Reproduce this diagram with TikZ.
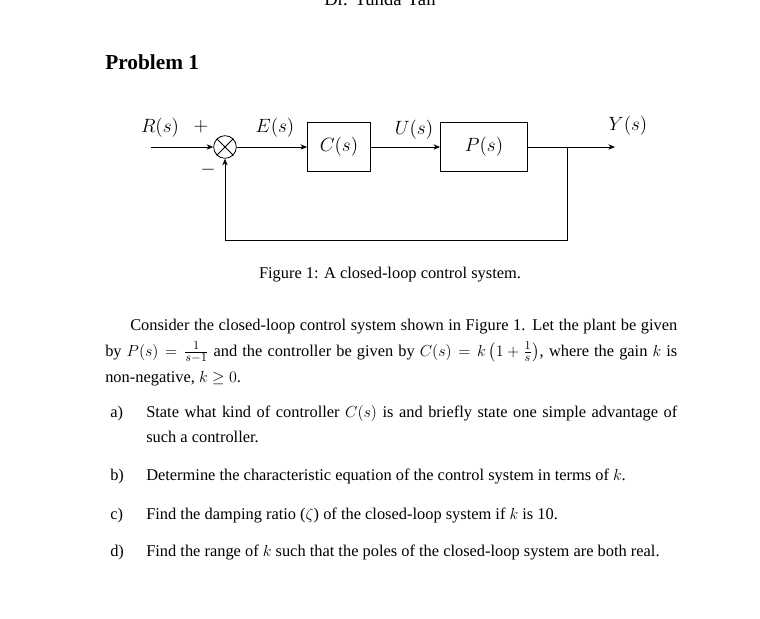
\documentclass[tikz,border=0pt]{standalone}
\usepackage{fontspec}
\setmainfont{Liberation Serif}
\usepackage{amsmath}
\usetikzlibrary{arrows.meta}
\newcommand\jl[3]{\node[anchor=base west,inner sep=0] at (#1) {\makebox[#2][s]{#3}};}
\begin{document}
\begin{tikzpicture}[x=0.75pt,y=-0.75pt,font=\fontsize{12.3}{14}\selectfont,
  blk/.style={draw,semithick,minimum height=49*0.75pt,inner sep=0},
  sig/.style={semithick,-{Stealth[length=5pt,width=4pt]}},
  wire/.style={semithick},
  lab/.style={font=\fontsize{14.5}{16}\selectfont}]
\useasboundingbox (0,0) rectangle (760,618);
\node[anchor=base] (hdr) at (380,5) {\fontsize{14}{16}\selectfont Dr. Yunda Yan};
\node[anchor=base west,inner sep=0] (prob) at (105,69) {\fontsize{16}{18}\selectfont\bfseries Problem 1};
% diagram
\coordinate (in) at (151,147);
\node[draw,semithick,circle,minimum size=17pt,inner sep=0] (sum) at (225,147) {};
\draw[semithick] (sum.north west) -- (sum.south east) (sum.north east) -- (sum.south west);
\node[blk,lab,minimum width=63*0.75pt] (C) at (339,147) {$C(s)$};
\node[blk,lab,minimum width=87*0.75pt] (P) at (484,147) {$P(s)$};
\coordinate (br) at (567,147);
\coordinate (out) at (615,147);
\coordinate (bot) at (567,240);
\coordinate (botl) at (225,240);
\draw[sig] (in) -- (sum);
\draw[sig] (sum) -- (C);
\draw[sig] (C) -- (P);
\draw[wire] (P) -- (br);
\draw[sig] (br) -- (out);
\draw[wire] (br) -- (bot) -- (botl);
\draw[sig] (botl) -- (sum);
\node[lab] (lR) at (160,128) {$R(s)$};
\node[lab] (lp) at (201,127) {$+$};
\node[lab] (lm) at (208,170) {$-$};
\node[lab] (lE) at (275,128) {$E(s)$};
\node[lab] (lU) at (414,130) {$U(s)$};
\node[lab] (lY) at (628,126) {$Y(s)$};
\node[anchor=base] (cap) at (390,278) {Figure 1: A closed-loop control system.};
% text
\jl{130,330}{410.25pt}{Consider the closed-loop control system shown in Figure 1. Let the plant be given}
\jl{105,356}{429pt}{by $P(s)=\frac{1}{s-1}$ and the controller be given by $C(s)=k\left(1+\frac{1}{s}\right)$, where the gain $k$ is}
\node[anchor=base west,inner sep=0] at (105,382) {non-negative, $k\geq 0$.};
\node[anchor=base west,inner sep=0] at (110,417) {a)};
\jl{146,417}{398.25pt}{State what kind of controller $C(s)$ is and briefly state one simple advantage of}
\node[anchor=base west,inner sep=0] at (146,442) {such a controller.};
\node[anchor=base west,inner sep=0] at (110,480) {b)};
\node[anchor=base west,inner sep=0] at (146,480) {Determine the characteristic equation of the control system in terms of $k$.};
\node[anchor=base west,inner sep=0] at (110,519) {c)};
\node[anchor=base west,inner sep=0] at (146,519) {Find the damping ratio ($\zeta$) of the closed-loop system if $k$ is 10.};
\node[anchor=base west,inner sep=0] at (110,556) {d)};
\node[anchor=base west,inner sep=0] at (146,556) {Find the range of $k$ such that the poles of the closed-loop system are both real.};
\end{tikzpicture}
\end{document}
